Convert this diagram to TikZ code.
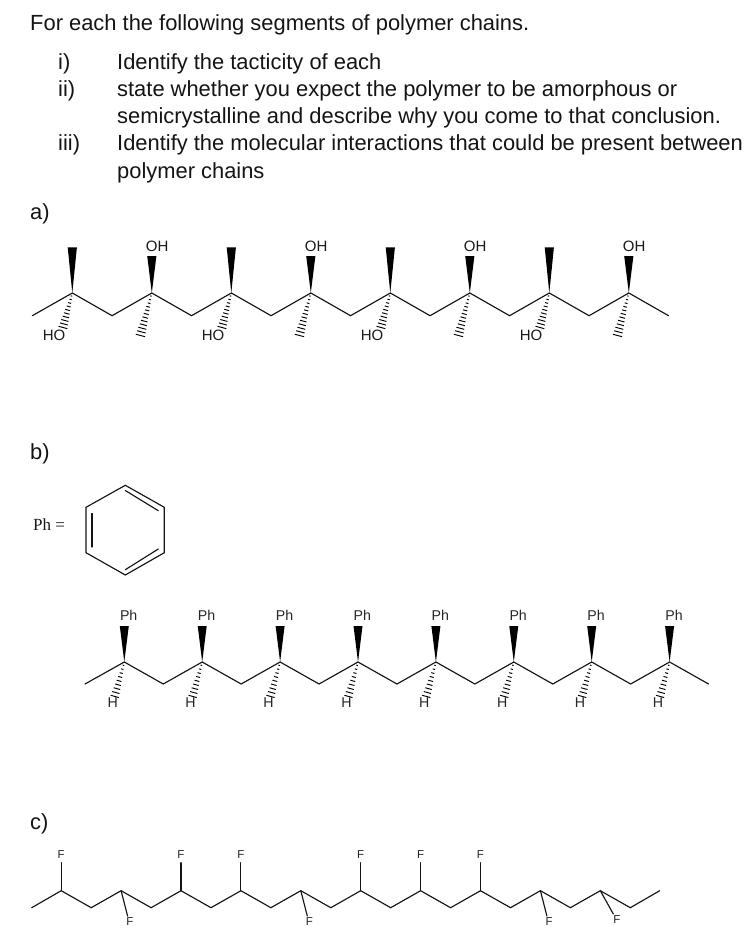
\documentclass[tikz,border=0pt]{standalone}
\usepackage{fontspec}
\setmainfont{Liberation Sans}
\newfontfamily\serifph{Liberation Serif}
\usetikzlibrary{calc}
\newcommand{\wedgebond}[3]{\fill[black] (#1) -- ($(#2)!#3!90:(#1)$) -- ($(#2)!#3!-90:(#1)$) -- cycle;}
\newcommand{\hashbond}[4]{%
  \foreach \k in {1,...,#4}{%
    \pgfmathsetmacro{\tt}{(\k-0.15)/#4}%
    \pgfmathsetmacro{\ww}{0.4+#3*\tt}%
    \coordinate (hp) at ($(#1)!\tt!(#2)$);
    \draw[hashline] ($(hp)!\ww pt!90:(#2)$) -- ($(hp)!\ww pt!-90:(#2)$);
  }}
\tikzset{
  bond/.style={line width=1.15pt,line join=miter,line cap=round,black!92},
  hashline/.style={line width=0.95pt,black},
  para/.style={anchor=base west,inner sep=0pt,font=\fontsize{21.9}{26}\selectfont,text=black!92},
  atomA/.style={anchor=base,inner sep=0pt,font=\fontsize{15}{18}\selectfont,text=black!90},
  atomB/.style={anchor=base,inner sep=0pt,font=\fontsize{14.2}{18}\selectfont,text=black!85},
  atomC/.style={anchor=base,inner sep=0pt,font=\fontsize{11.5}{13}\selectfont,text=black!85},
  phlabel/.style={anchor=base,inner sep=0pt,font=\serifph\fontsize{17}{20}\selectfont,text=black!90},
}
\begin{document}
\begin{tikzpicture}[x=1pt,y=-1pt]
\useasboundingbox (0,0) rectangle (750,936);
% ---- text
\node[para] (t0) at (30,30.5) {For each the following segments of polymer chains.};
\node[para] (n1) at (58,70) {i)};
\node[para] (n2) at (58,97) {ii)};
\node[para] (n3) at (58,151) {iii)};
\node[para] (l1) at (117,70) {Identify the tacticity of each};
\node[para] (l2) at (117,97) {state whether you expect the polymer to be amorphous or};
\node[para] (l3) at (117,124) {semicrystalline and describe why you come to that conclusion.};
\node[para] (l4) at (117,151) {Identify the molecular interactions that could be present between};
\node[para] (l5) at (117,178.5) {polymer chains};
\node[para] (pa) at (30,219) {a)};
\node[para] (pb) at (30,459) {b)};
\node[para] (pc) at (30,829) {c)};
% ---- polymer a
\coordinate (as) at (32.3,315.7);
\foreach \i in {0,...,7}{
  \pgfmathsetmacro{\cx}{72.3+79.5*\i}
  \coordinate (a\i) at (\cx,293);
  \coordinate (al\i) at (\cx+39.75,315.7);
}
\draw[bond] (as) -- (a0) -- (al0) -- (a1) -- (al1) -- (a2) -- (al2) -- (a3) -- (al3) -- (a4) -- (al4) -- (a5) -- (al5) -- (a6) -- (al6) -- (a7) -- (al7);
\foreach \i in {0,2,4,6}{
  \coordinate (at\i) at ($(a\i)+(0,-45.7)$);
  \wedgebond{a\i}{at\i}{4.6pt}
  \coordinate (ab\i) at ($(a\i)+(-9.5,35)$);
  \hashbond{a\i}{ab\i}{4.2}{10}
  \node[atomA] (ho\i) at ($(a\i)+(-18.3,47)$) {HO};
}
\foreach \i in {1,3,5,7}{
  \coordinate (at\i) at ($(a\i)+(0,-37)$);
  \wedgebond{a\i}{at\i}{4.6pt}
  \coordinate (ab\i) at ($(a\i)+(-11.5,43)$);
  \hashbond{a\i}{ab\i}{4.4}{12}
  \node[atomA] (oh\i) at ($(a\i)+(5.3,-42)$) {OH};
}
% ---- benzene
\coordinate (r1) at (125.3,485.3);
\coordinate (r2) at (164.3,507.3);
\coordinate (r3) at (164.3,552.7);
\coordinate (r4) at (125.3,575);
\coordinate (r5) at (86,552.7);
\coordinate (r6) at (86,507.3);
\draw[bond] (r1) -- (r2) -- (r3) -- (r4) -- (r5) -- (r6) -- cycle;
\coordinate (i1a) at (125.3,490.5);
\coordinate (i1b) at (158.3,510.7);
\coordinate (i2a) at (158.3,549);
\coordinate (i2b) at (125.3,569.7);
\coordinate (i3a) at (92,513.5);
\coordinate (i3b) at (92,547);
\draw[bond] (i1a) -- (i1b);
\draw[bond] (i2a) -- (i2b);
\draw[bond] (i3a) -- (i3b);
\node[phlabel] (phdef) at (49,530) {Ph =};
% ---- polymer b
\coordinate (bs) at (85,684);
\foreach \i in {0,...,7}{
  \pgfmathsetmacro{\cx}{124.3+77.9*\i}
  \coordinate (b\i) at (\cx,662);
  \coordinate (bl\i) at (\cx+38.95,684);
}
\draw[bond] (bs) -- (b0) -- (bl0) -- (b1) -- (bl1) -- (b2) -- (bl2) -- (b3) -- (bl3) -- (b4) -- (bl4) -- (b5) -- (bl5) -- (b6) -- (bl6) -- (b7) -- (bl7);
\foreach \i in {0,...,7}{
  \coordinate (bt\i) at ($(b\i)+(0,-36)$);
  \wedgebond{b\i}{bt\i}{4.5pt}
  \coordinate (bh\i) at ($(b\i)+(-9.7,35)$);
  \hashbond{b\i}{bh\i}{3.9}{9}
  \node[atomB] (ph\i) at ($(b\i)+(4.4,-41.3)$) {Ph};
  \node[atomB] (h\i) at ($(b\i)+(-11.6,45.7)$) {H};
}
% ---- polymer c
\coordinate (cs) at (31.7,907.7);
\foreach \i in {0,...,9}{
  \pgfmathsetmacro{\cx}{61.2+59.9*\i}
  \coordinate (c\i) at (\cx,890.7);
  \coordinate (cl\i) at (\cx+30,907.7);
}
\coordinate (ce) at (659.7,890.7);
\draw[bond] (cs) -- (c0) -- (cl0) -- (c1) -- (cl1) -- (c2) -- (cl2) -- (c3) -- (cl3) -- (c4) -- (cl4) -- (c5) -- (cl5) -- (c6) -- (cl6) -- (c7) -- (cl7) -- (c8) -- (cl8) -- (c9) -- (cl9) -- (ce);
\foreach \i in {0,2,3,5,6,7}{
  \coordinate (cu\i) at ($(c\i)+(0,-28)$);
  \draw[bond] (c\i) -- (cu\i);
  \node[atomC] (fu\i) at ($(c\i)+(0,-32.5)$) {F};
}
\foreach \i in {1,4,8}{
  \coordinate (cd\i) at ($(c\i)+(6.5,25.3)$);
  \draw[bond] (c\i) -- (cd\i);
  \node[atomC] (fd\i) at ($(c\i)+(8.7,35)$) {F};
}
\coordinate (cd9) at ($(c9)+(13,23.3)$);
\draw[bond] (c9) -- (cd9);
\node[atomC] (fd9) at ($(c9)+(16.7,32.3)$) {F};
\end{tikzpicture}
\end{document}
